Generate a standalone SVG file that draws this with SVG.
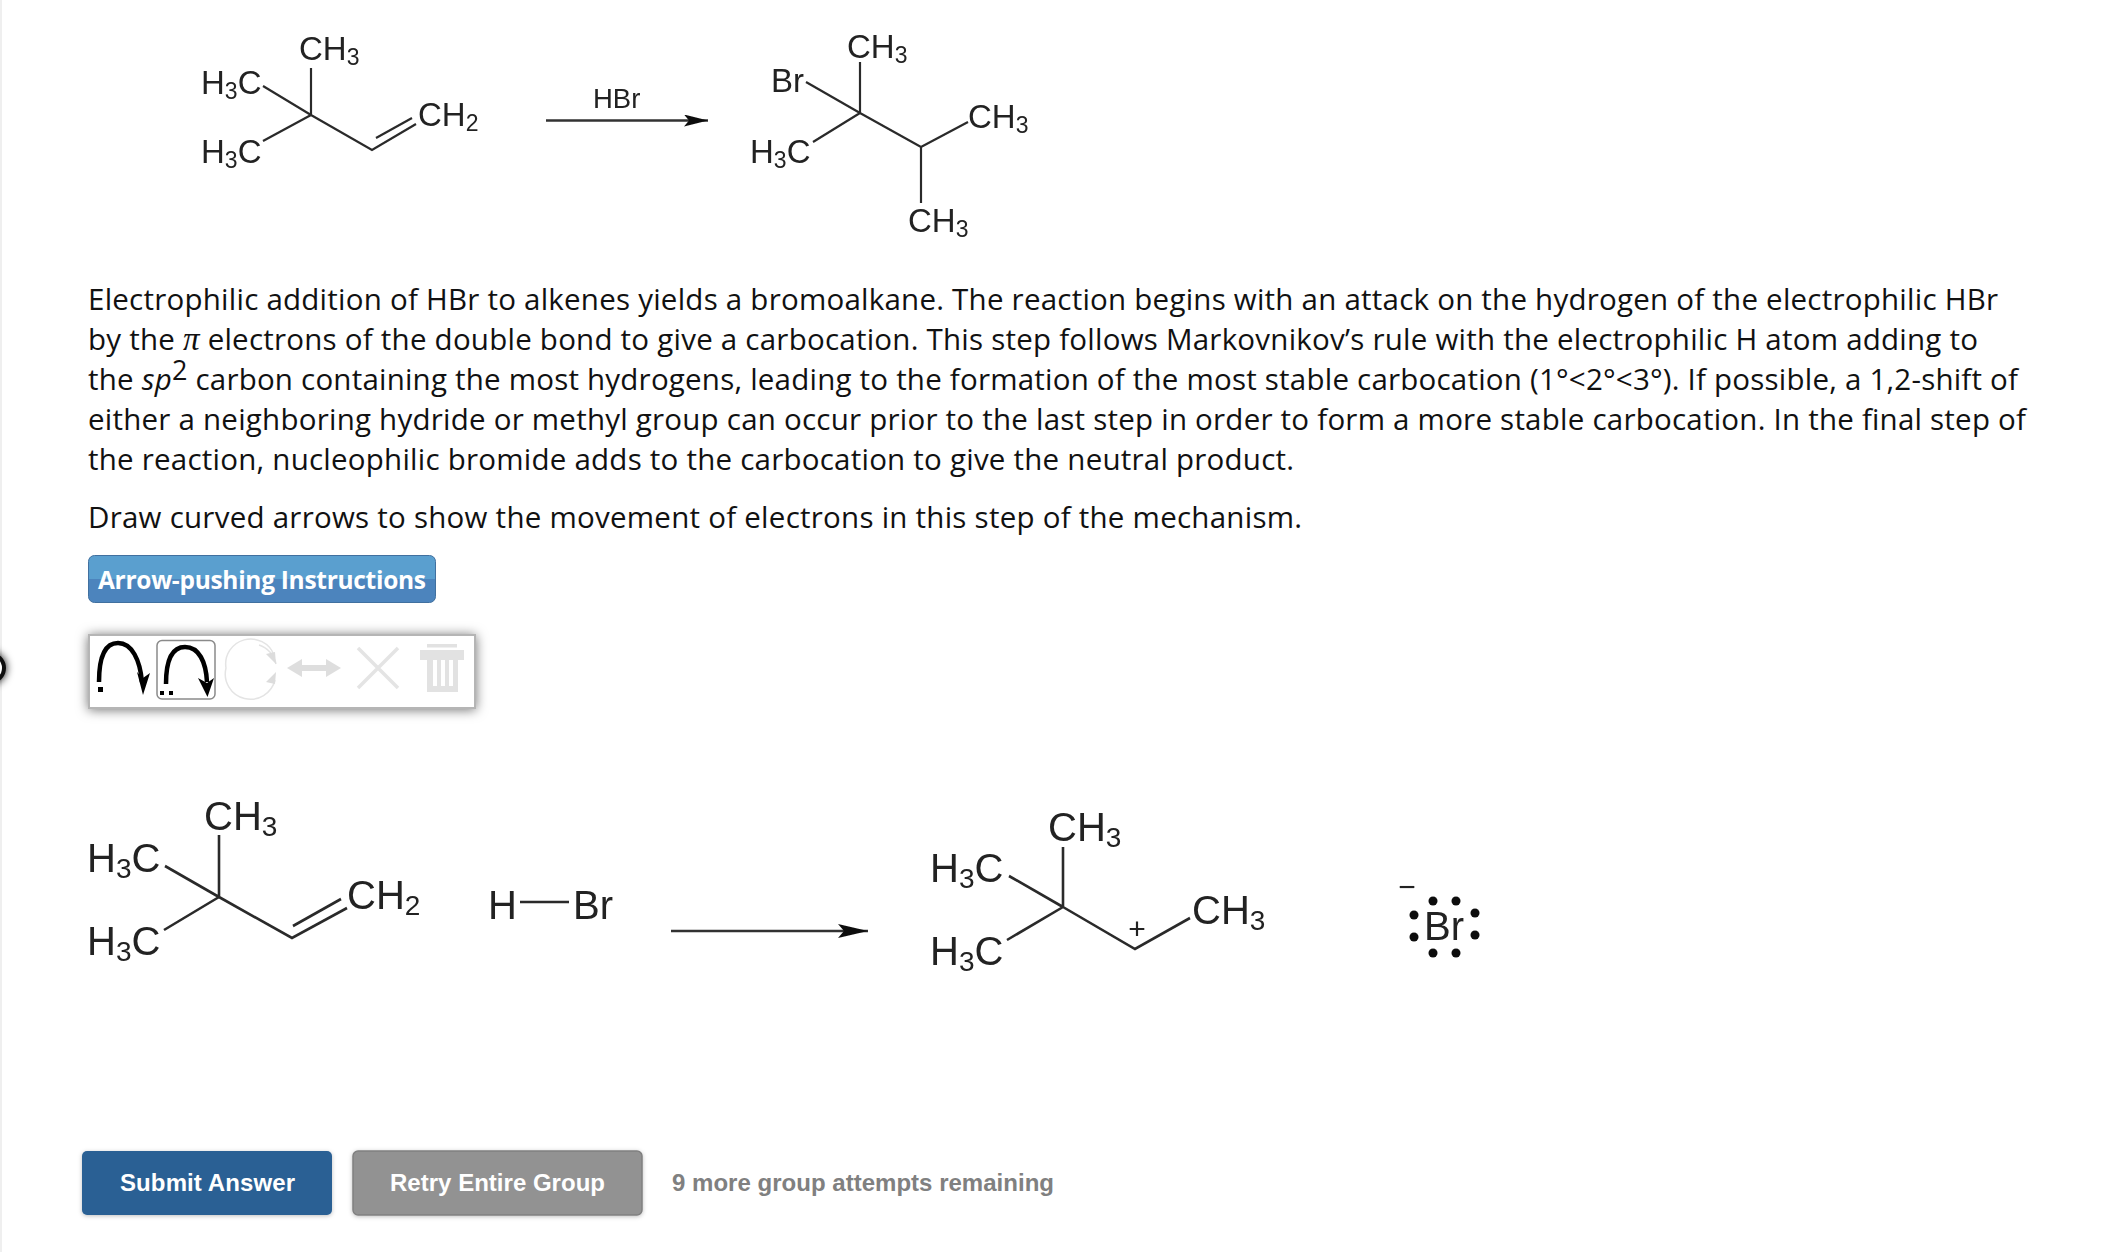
<svg xmlns="http://www.w3.org/2000/svg" width="2104" height="1252" viewBox="0 0 2104 1252">
<style>
.a{font-family:"Liberation Sans",Arial,sans-serif;fill:#222}
.s{font-size:33px}.l{font-size:40px}
.b{stroke:#2a2a2a;stroke-width:2.2;fill:none}
.B{stroke:#2a2a2a;stroke-width:2.6;fill:none}
.p{font-family:"Open Sans",sans-serif;font-size:29.5px;fill:#111}
.btn{font-family:"Liberation Sans",Arial,sans-serif;font-weight:700;font-size:24px;fill:#fff}
.g{stroke:#e4e4e4;fill:none}
.k{stroke:#000;fill:none;stroke-width:4.500}
</style>
<defs>
<filter id="soft" x="-5%" y="-5%" width="110%" height="110%"><feGaussianBlur stdDeviation="0.6"/></filter>
<filter id="sh" x="-10%" y="-40%" width="120%" height="180%"><feDropShadow dx="0" dy="1" stdDeviation="6" flood-color="#000" flood-opacity="0.55"/></filter>
<filter id="sb" x="-10%" y="-20%" width="120%" height="140%"><feDropShadow dx="0" dy="1" stdDeviation="2" flood-color="#000" flood-opacity="0.25"/></filter>
<filter id="glow" x="-80%" y="-80%" width="260%" height="260%"><feDropShadow dx="0" dy="0" stdDeviation="4" flood-color="#000" flood-opacity="1"/></filter>
<linearGradient id="ib" x1="0" y1="0" x2="0" y2="1"><stop offset="0.5" stop-color="#5a9fcf"/><stop offset="0.5" stop-color="#4c84bd"/></linearGradient>
<marker id="ah" markerUnits="userSpaceOnUse" markerWidth="24" markerHeight="12" refX="24" refY="6" orient="auto"><path d="M0 0L24 6L0 12L5 6Z" fill="#111"/></marker>
<marker id="ah2" markerUnits="userSpaceOnUse" markerWidth="30" markerHeight="14" refX="30" refY="7" orient="auto"><path d="M0 0L30 7L0 14L6 7Z" fill="#111"/></marker>
</defs>
<rect width="2104" height="1252" fill="#fff"/>
<rect id="page-edge" width="2" height="1252" fill="#efefef"/>
<g id="alkene-top" filter="url(#soft)">
<path class="b" d="M311 115V68M263 86L311 115M263 141L311 115M311 115L372 150L416 124M376 138L412 118"/>
<text class="a s" x="201" y="94">H<tspan font-size="23" dy="5">3</tspan><tspan dy="-5">C</tspan></text>
<text class="a s" x="201" y="163">H<tspan font-size="23" dy="5">3</tspan><tspan dy="-5">C</tspan></text>
<text class="a s" x="299" y="60">CH<tspan font-size="23" dy="5">3</tspan></text>
<text class="a s" x="418" y="126">CH<tspan font-size="23" dy="5">2</tspan></text>
</g>
<g id="product-top" filter="url(#soft)">
<path class="b" d="M860 113V62M806 82L860 113M813 142L860 113M860 113L921 147L968 122M921 147V203"/>
<text class="a s" x="771" y="92">Br</text>
<text class="a s" x="750" y="163">H<tspan font-size="23" dy="5">3</tspan><tspan dy="-5">C</tspan></text>
<text class="a s" x="847" y="58">CH<tspan font-size="23" dy="5">3</tspan></text>
<text class="a s" x="968" y="128">CH<tspan font-size="23" dy="5">3</tspan></text>
<text class="a s" x="908" y="232">CH<tspan font-size="23" dy="5">3</tspan></text>
</g>
<text id="hbr-label" class="a" filter="url(#soft)" font-size="27.500" x="593" y="108">HBr</text>
<g id="connectors" filter="url(#soft)">
<path d="M546 120.500H708" stroke="#333" stroke-width="2.400" marker-end="url(#ah)"/>
<path d="M671 931H868" stroke="#333" stroke-width="2.400" marker-end="url(#ah2)"/>
</g>
<g id="paragraph">
<text class="p" x="88" y="310" textLength="1910">Electrophilic addition of HBr to alkenes yields a bromoalkane. The reaction begins with an attack on the hydrogen of the electrophilic HBr</text>
<text class="p" x="88" y="350" textLength="1890">by the <tspan font-family="Liberation Serif" font-style="italic" font-size="33">π</tspan> electrons of the double bond to give a carbocation. This step follows Markovnikov’s rule with the electrophilic H atom adding to</text>
<text class="p" x="88" y="390" textLength="1930">the <tspan font-style="italic">sp</tspan><tspan font-size="27" dy="-10">2</tspan><tspan dy="10"> carbon containing the most hydrogens, leading to the formation of the most stable carbocation (1°&lt;2°&lt;3°). If possible, a 1,2-shift of</tspan></text>
<text class="p" x="88" y="430" textLength="1938">either a neighboring hydride or methyl group can occur prior to the last step in order to form a more stable carbocation. In the final step of</text>
<text class="p" x="88" y="470" textLength="1206">the reaction, nucleophilic bromide adds to the carbocation to give the neutral product.</text>
<text class="p" x="88" y="528" textLength="1214">Draw curved arrows to show the movement of electrons in this step of the mechanism.</text>
</g>
<g id="instructions-button">
<rect x="88.500" y="555.500" width="347" height="47" rx="6" fill="url(#ib)" stroke="#41709f"/>
<text x="98" y="589" font-family="Open Sans" font-weight="700" font-size="24.500" fill="#fff" textLength="328">Arrow-pushing Instructions</text>
</g>
<circle id="edge-handle" cx="-10" cy="668" r="14" fill="#fff" stroke="#111" stroke-width="4" filter="url(#glow)"/>
<g id="toolbar">
<rect x="89" y="635" width="386" height="73" fill="#fff" stroke="#b5b5b5" stroke-width="2" filter="url(#sh)"/>
<g id="tool-single">
<path class="k" d="M99 682C99 660 104 643 118 643C132 643 140 660 142 682"/>
<path d="M143 695L137 672L143 678L150 673Z" fill="#000"/>
<rect x="98" y="687" width="5" height="5" fill="#000"/>
</g>
<g id="tool-double">
<rect x="157" y="640.500" width="58" height="58.500" rx="5" fill="#fff" stroke="#8a8a8a" stroke-width="1.500"/>
<path class="k" d="M166 684C166 662 171 647 185 647C199 647 206 662 207 682"/>
<path d="M207.500 697L198 678L207 683L214 678Z" fill="#000"/>
<rect x="160" y="691" width="4" height="4" fill="#000"/><rect x="169" y="691" width="4" height="4" fill="#000"/>
</g>
<g id="tool-cycle">
<path class="g" stroke-width="1.500" d="M274 655A25 25 0 0 0 226 668A25 25 0 0 0 275 680"/>
<path class="g" stroke-width="1.500" d="M259 645A25 25 0 0 1 276 664"/>
<path d="M276 664L266 654L275 652ZM276 672L266 682L275 684Z" fill="#dcdcdc"/>
</g>
<g id="tool-swap">
<path d="M287 668L302 659V665H326V659L341 668L326 677V671H302V677Z" fill="#dedede"/>
</g>
<path id="tool-x" class="g" stroke-width="3.500" d="M358 648L398 688M398 648L358 688"/>
<g id="tool-trash" fill="#e2e2e2">
<rect x="427" y="644" width="30" height="3.500"/>
<rect x="420" y="650" width="44" height="10"/>
<path fill-rule="evenodd" d="M427 660H458V692H427ZM433 660V686H437V660ZM441 660V686H445V660ZM449 660V686H453V660Z"/>
</g>
</g>
<g id="alkene-bottom" filter="url(#soft)">
<path class="B" d="M219 897V835M165 866L219 897M164 930L219 897M219 897L292 938L347 908M293 926L341 899"/>
<text class="a l" x="87" y="872">H<tspan font-size="28" dy="6">3</tspan><tspan dy="-6">C</tspan></text>
<text class="a l" x="87" y="955">H<tspan font-size="28" dy="6">3</tspan><tspan dy="-6">C</tspan></text>
<text class="a l" x="204" y="830">CH<tspan font-size="28" dy="6">3</tspan></text>
<text class="a l" x="347" y="909">CH<tspan font-size="28" dy="6">2</tspan></text>
</g>
<g id="hbr-bottom" filter="url(#soft)">
<path class="B" d="M520 902H569"/>
<text class="a l" x="488" y="919">H</text>
<text class="a l" x="573" y="919">Br</text>
</g>
<g id="carbocation" filter="url(#soft)">
<path class="B" d="M1063 907V847M1009 876L1063 907M1007 940L1063 907M1063 907L1135 949L1190 918"/>
<text class="a l" x="930" y="882">H<tspan font-size="28" dy="6">3</tspan><tspan dy="-6">C</tspan></text>
<text class="a l" x="930" y="965">H<tspan font-size="28" dy="6">3</tspan><tspan dy="-6">C</tspan></text>
<text class="a l" x="1048" y="841">CH<tspan font-size="28" dy="6">3</tspan></text>
<text class="a l" x="1192" y="924">CH<tspan font-size="28" dy="6">3</tspan></text>
<text class="a" font-size="30" x="1137" y="939" text-anchor="middle">+</text>
</g>
<g id="bromide" filter="url(#soft)">
<text class="a l" x="1424" y="940">Br</text>
<text class="a" font-size="30" x="1407" y="897" text-anchor="middle">−</text>
<g fill="#111"><circle cx="1433" cy="901" r="4.500"/><circle cx="1456" cy="901" r="4.500"/><circle cx="1414" cy="915" r="4.500"/><circle cx="1414" cy="937" r="4.500"/><circle cx="1475" cy="913" r="4.500"/><circle cx="1475" cy="935" r="4.500"/><circle cx="1433" cy="953" r="4.500"/><circle cx="1456" cy="953" r="4.500"/></g>
</g>
<g id="submit-button">
<rect x="82" y="1151" width="250" height="64" rx="5" fill="#2a6094" filter="url(#sb)"/>
<text class="btn" x="120" y="1191" textLength="175">Submit Answer</text>
</g>
<g id="retry-button">
<rect x="353" y="1151" width="289" height="64" rx="5" fill="#929292" stroke="#808080" stroke-width="1.500" filter="url(#sb)"/>
<text class="btn" x="390" y="1191" textLength="215">Retry Entire Group</text>
</g>
<text id="attempts" class="btn" style="fill:#808080" x="672" y="1191" textLength="382">9 more group attempts remaining</text>
</svg>
